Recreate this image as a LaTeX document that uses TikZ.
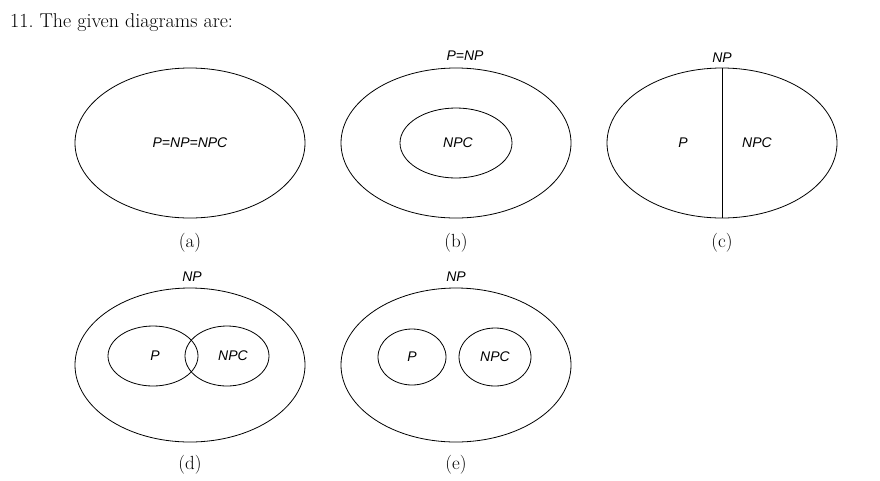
\documentclass[tikz,border=0pt]{standalone}
\usepackage{fontspec}
\newfontfamily\hv{Liberation Sans}
\begin{document}
\begin{tikzpicture}[x=1pt,y=-1pt,
  lab/.style={font=\hv\itshape\fontsize{14}{16}\selectfont,inner sep=0},
  captxt/.style={font=\fontsize{19}{21}\selectfont,inner sep=0},
  ell/.style={draw,line width=0.8pt}]
\useasboundingbox (0,0) rectangle (880,480);
\node[font=\fontsize{20}{22}\selectfont,anchor=west,inner sep=0] (t) at (10,23) {11.\ The given diagrams are:};
% (a)
\draw[ell] (190,143) ellipse [x radius=115,y radius=75];
\node[lab] (la) at (190,143) {P=NP=NPC};
\node[captxt] (ca) at (190,243) {(a)};
% (b)
\draw[ell] (456,143) ellipse [x radius=115,y radius=75];
\draw[ell] (456,143) ellipse [x radius=56,y radius=35];
\node[lab] (lb) at (458,143) {NPC};
\node[lab] (lb2) at (465,56) {P=NP};
\node[captxt] (cb) at (456,243) {(b)};
% (c)
\draw[ell] (722,143) ellipse [x radius=115,y radius=75];
\draw[ell] (722,68) -- (722,218);
\node[lab] (lc1) at (683,143) {P};
\node[lab] (lc2) at (757,143) {NPC};
\node[lab] (lc3) at (722,58) {NP};
\node[captxt] (cc) at (722,243) {(c)};
% (d)
\draw[ell] (190,365) ellipse [x radius=115,y radius=77];
\draw[ell] (153,356) ellipse [x radius=45,y radius=30];
\draw[ell] (227,356) ellipse [x radius=42,y radius=30];
\node[lab] (ld1) at (155,356) {P};
\node[lab] (ld2) at (233,356) {NPC};
\node[lab] (ld3) at (192,277) {NP};
\node[captxt] (cd) at (190,465) {(d)};
% (e)
\draw[ell] (456,365) ellipse [x radius=115,y radius=77];
\draw[ell] (412,357) ellipse [x radius=34,y radius=28];
\draw[ell] (495,357) ellipse [x radius=36,y radius=29];
\node[lab] (le1) at (412,357) {P};
\node[lab] (le2) at (495,357) {NPC};
\node[lab] (le3) at (456,277) {NP};
\node[captxt] (ce) at (456,465) {(e)};
\end{tikzpicture}
\end{document}
